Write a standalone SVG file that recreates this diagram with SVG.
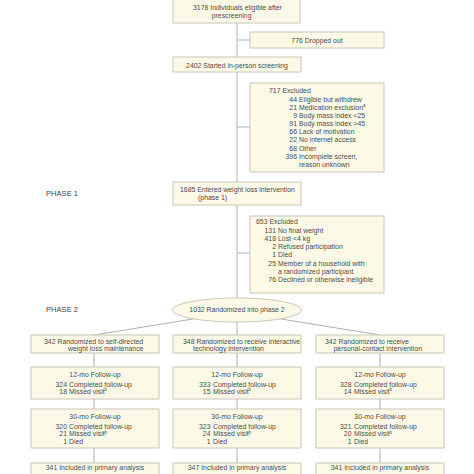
<svg xmlns="http://www.w3.org/2000/svg" width="474" height="474" viewBox="0 0 474 474">
<style>
.b{fill:#fcfae6;stroke:#c2c2b6;stroke-width:0.9}
.t{font-family:"Liberation Sans",Arial,sans-serif;font-size:6.9px;fill:#4a4a4a}
.e{text-anchor:end}
.m{text-anchor:middle}
.p{font-family:"Liberation Sans",Arial,sans-serif;font-size:7.6px;fill:#444}
.c{stroke:#b0b0b0;stroke-width:1;fill:none}
.s{font-size:4.5px}
</style>
<rect width="474" height="474" fill="#fff"/>
<g id="connectors">
<path class="c" d="M237 23V57M237 40H250M237 72V182M237 127H250M237 205V298M237 253H250M237 322V335M193 319L94 335M281 319L380 335M94 353V367M237 353V367M380 353V367M94 399V409M237 399V409M380 399V409M94 448V463M237 448V463M380 448V463"/>
</g>
<g id="eligible">
<rect class="b" x="173" y="-1" width="127" height="24"/>
<text class="t" x="193" y="9.5">3178 Individuals eligible after</text>
<text class="t" x="211.7" y="17.5">prescreening</text>
</g>
<g id="dropped">
<rect class="b" x="250" y="32" width="134" height="16"/>
<text class="t m" x="317" y="42.5">776 Dropped out</text>
</g>
<g id="screening">
<rect class="b" x="173" y="57" width="128" height="15"/>
<text class="t m" x="237" y="67.7">2402 Started in-person screening</text>
</g>
<g id="excluded1">
<rect class="b" x="250" y="83" width="134" height="89"/>
<text class="t" x="269" y="93.4">717 Excluded</text>
<g class="t e">
<text x="297" y="101.6">44</text>
<text x="297" y="109.7">21</text>
<text x="297" y="117.9">9</text>
<text x="297" y="126">91</text>
<text x="297" y="134.2">66</text>
<text x="297" y="142.3">22</text>
<text x="297" y="150.5">68</text>
<text x="297" y="158.6">396</text>
</g>
<g class="t">
<text x="299" y="101.6">Eligible but withdrew</text>
<text x="299" y="109.7">Medication exclusion<tspan class="s" dy="-2.5">a</tspan></text>
<text x="299" y="117.9">Body mass index &lt;25</text>
<text x="299" y="126">Body mass index &gt;45</text>
<text x="299" y="134.2">Lack of motivation</text>
<text x="299" y="142.3">No internet access</text>
<text x="299" y="150.5">Other</text>
<text x="299" y="158.6">Incomplete screen,</text>
<text x="299" y="166.8">reason unknown</text>
</g>
</g>
<text class="p" x="46" y="195.7">PHASE 1</text>
<g id="phase1">
<rect class="b" x="173" y="182" width="128" height="23"/>
<text class="t" x="180" y="192.4">1685 Entered weight loss intervention</text>
<text class="t" x="198" y="200.4">(phase 1)</text>
</g>
<g id="excluded2">
<rect class="b" x="250" y="216" width="134" height="77"/>
<text class="t" x="256" y="224.4">653 Excluded</text>
<g class="t e">
<text x="276" y="232.7">131</text>
<text x="276" y="240.9">418</text>
<text x="276" y="249.2">2</text>
<text x="276" y="257.4">1</text>
<text x="276" y="265.7">25</text>
<text x="276" y="282.2">76</text>
</g>
<g class="t">
<text x="278" y="232.7">No final weight</text>
<text x="278" y="240.9">Lost &lt;4 kg</text>
<text x="278" y="249.2">Refused participation</text>
<text x="278" y="257.4">Died</text>
<text x="278" y="265.7">Member of a household with</text>
<text x="278" y="273.9">a randomized participant</text>
<text x="278" y="282.2">Declined or otherwise ineligible</text>
</g>
</g>
<text class="p" x="46" y="311.7">PHASE 2</text>
<g id="randomized">
<ellipse class="b" cx="237" cy="310" rx="64.5" ry="12"/>
<text class="t m" x="237" y="312.4">1032 Randomized into phase 2</text>
</g>
<g id="arm1">
<rect class="b" x="31" y="335" width="128" height="18"/>
<text class="t" x="44" y="343.9">342 Randomized to self-directed</text>
<text class="t" x="68" y="351.4">weight loss maintenance</text>
</g>
<g id="arm2">
<rect class="b" x="173" y="335" width="128" height="18"/>
<text class="t" x="183" y="343.9">348 Randomized to receive interactive</text>
<text class="t" x="193" y="351.4">technology intervention</text>
</g>
<g id="arm3">
<rect class="b" x="316" y="335" width="128" height="18"/>
<text class="t" x="325" y="343.9">342 Randomized to receive</text>
<text class="t" x="333.5" y="351.4">personal-contact intervention</text>
</g>
<g id="fu12a">
<rect class="b" x="31" y="367" width="128" height="32"/>
<text class="t m" x="95" y="377.4">12-mo Follow-up</text>
<text class="t e" x="67" y="386.6">324</text><text class="t" x="69" y="386.6">Completed follow-up</text>
<text class="t e" x="67" y="393.8">18</text><text class="t" x="69" y="393.8">Missed visit<tspan class="s" dy="-2.5">b</tspan></text>
</g>
<g id="fu12b">
<rect class="b" x="173" y="367" width="128" height="32"/>
<text class="t m" x="237" y="377.4">12-mo Follow-up</text>
<text class="t e" x="210.5" y="386.6">333</text><text class="t" x="213" y="386.6">Completed follow-up</text>
<text class="t e" x="210.5" y="393.8">15</text><text class="t" x="213" y="393.8">Missed visit<tspan class="s" dy="-2.5">b</tspan></text>
</g>
<g id="fu12c">
<rect class="b" x="316" y="367" width="128" height="32"/>
<text class="t m" x="380" y="377.4">12-mo Follow-up</text>
<text class="t e" x="351.5" y="386.6">328</text><text class="t" x="354" y="386.6">Completed follow-up</text>
<text class="t e" x="351.5" y="393.8">14</text><text class="t" x="354" y="393.8">Missed visit<tspan class="s" dy="-2.5">b</tspan></text>
</g>
<g id="fu30a">
<rect class="b" x="31" y="409" width="128" height="39"/>
<text class="t m" x="95" y="419.4">30-mo Follow-up</text>
<text class="t e" x="67" y="428.6">320</text><text class="t" x="69" y="428.6">Completed follow-up</text>
<text class="t e" x="67" y="436">21</text><text class="t" x="69" y="436">Missed visit<tspan class="s" dy="-2.5">b</tspan></text>
<text class="t e" x="67" y="443.6">1</text><text class="t" x="69" y="443.6">Died</text>
</g>
<g id="fu30b">
<rect class="b" x="173" y="409" width="128" height="39"/>
<text class="t m" x="237" y="419.4">30-mo Follow-up</text>
<text class="t e" x="210.5" y="428.6">323</text><text class="t" x="213" y="428.6">Completed follow-up</text>
<text class="t e" x="210.5" y="436">24</text><text class="t" x="213" y="436">Missed visit<tspan class="s" dy="-2.5">b</tspan></text>
<text class="t e" x="210.5" y="443.6">1</text><text class="t" x="213" y="443.6">Died</text>
</g>
<g id="fu30c">
<rect class="b" x="316" y="409" width="128" height="39"/>
<text class="t m" x="380" y="419.4">30-mo Follow-up</text>
<text class="t e" x="351.5" y="428.6">321</text><text class="t" x="354" y="428.6">Completed follow-up</text>
<text class="t e" x="351.5" y="436">20</text><text class="t" x="354" y="436">Missed visit<tspan class="s" dy="-2.5">b</tspan></text>
<text class="t e" x="351.5" y="443.6">1</text><text class="t" x="354" y="443.6">Died</text>
</g>
<g id="analysisA">
<rect class="b" x="31" y="463" width="128" height="18"/>
<text class="t m" x="95" y="469.8">341 Included in primary analysis</text>
</g>
<g id="analysisB">
<rect class="b" x="173" y="463" width="128" height="18"/>
<text class="t m" x="237" y="469.8">347 Included in primary analysis</text>
</g>
<g id="analysisC">
<rect class="b" x="316" y="463" width="128" height="18"/>
<text class="t m" x="380" y="469.8">341 Included in primary analysis</text>
</g>
</svg>
